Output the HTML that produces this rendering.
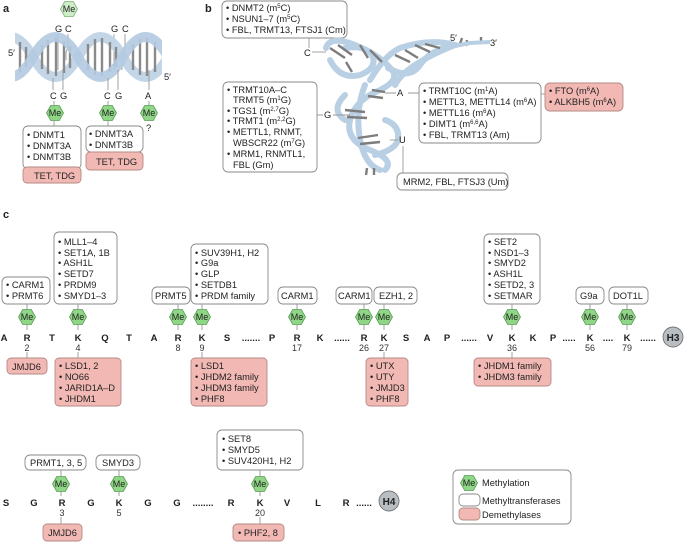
<!DOCTYPE html>
<html><head><meta charset="utf-8"><style>
html,body{margin:0;padding:0;background:#fff;}
svg{display:block;}
text{font-family:"Liberation Sans",sans-serif;font-size:9.3px;fill:#222;}
.b{font-weight:bold;font-size:11px;}
.s{font-weight:bold;font-size:9.5px;text-anchor:middle;}
.n{font-size:9px;text-anchor:middle;fill:#333;}
.m{text-anchor:middle;font-size:9px;}
.box{fill:#fff;stroke:#8a8a8a;stroke-width:0.9;}
.pk{fill:#f2b9b4;stroke:#b58a86;stroke-width:0.9;}
.ln{stroke:#999;stroke-width:0.9;fill:none;}
</style></head><body>
<svg width="685" height="542" viewBox="0 0 685 542" xmlns="http://www.w3.org/2000/svg">
<defs>
<polygon id="hx" points="-8.5,0 -4.3,-7.5 4.3,-7.5 8.5,0 4.3,7.5 -4.3,7.5" fill="#8fd686" stroke="#5a9e55" stroke-width="0.8"/>
<polygon id="hxl" points="-8.5,0 -4.3,-7.5 4.3,-7.5 8.5,0 4.3,7.5 -4.3,7.5" fill="#cdeec6" stroke="#7fb078" stroke-width="0.8"/>
<clipPath id="cl"><rect x="15" y="20" width="147" height="80"/></clipPath>
</defs>

<!-- PANEL A -->
<text class="b" x="3" y="12">a</text>
<use href="#hxl" x="69" y="9"/><text class="m" x="69" y="12">Me</text>
<text x="55" y="32">G</text><text x="65" y="32">C</text>
<path class="ln" d="M58,34 V70 M68,34 V48 L66,52 V60"/>
<text x="111" y="32">G</text><text x="122" y="32">C</text>
<path class="ln" d="M114,34 V70 M125,34 V50 L122,54 V70"/>
<g clip-path="url(#cl)">
<path d="M-12,57 Q10.5,17 33,57 Q55.5,97 78,57 Q100.5,17 123,57 Q145.5,97 168,57" stroke="#c3d6e8" stroke-width="10" fill="none"/>
<g stroke="#8a8a8a" stroke-width="2.4">
<line x1="20" y1="42" x2="20" y2="72"/><line x1="26" y1="47" x2="26" y2="67"/>
<line x1="42" y1="45" x2="42" y2="69"/><line x1="48" y1="40" x2="48" y2="74"/><line x1="56" y1="38" x2="56" y2="76"/><line x1="64" y1="41" x2="64" y2="73"/><line x1="70" y1="46" x2="70" y2="68"/>
<line x1="88" y1="44" x2="88" y2="70"/><line x1="95" y1="39" x2="95" y2="75"/><line x1="102" y1="38" x2="102" y2="76"/><line x1="110" y1="42" x2="110" y2="72"/><line x1="116" y1="47" x2="116" y2="67"/>
<line x1="133" y1="44" x2="133" y2="70"/><line x1="140" y1="39" x2="140" y2="75"/><line x1="147" y1="38" x2="147" y2="76"/><line x1="155" y1="42" x2="155" y2="72"/>
</g>
<path d="M-12,57 Q10.5,97 33,57 Q55.5,17 78,57 Q100.5,97 123,57 Q145.5,17 168,57" stroke="#b3cae0" stroke-width="10" fill="none" opacity="0.9"/>
</g>
<text x="8" y="56">5′</text><text x="164" y="80">5′</text>
<path class="ln" d="M53,78 V90 M63,70 V90 M108,78 V90 M118,70 V90 M149,70 V90"/>
<text x="50" y="99">C</text><text x="60" y="99">G</text>
<text x="104" y="99">C</text><text x="115" y="99">G</text>
<text x="145" y="99">A</text>
<path class="ln" d="M54,101 V106 M108,101 V106 M149,101 V106 M54,121 V126 M108,121 V126 M54,167 V170"/>
<use href="#hx" x="55" y="113"/><text class="m" x="55" y="116">Me</text>
<use href="#hx" x="108" y="113"/><text class="m" x="108" y="116">Me</text>
<use href="#hx" x="149" y="113"/><text class="m" x="149" y="116">Me</text>
<text x="146" y="131">?</text>
<rect class="box" x="23" y="126" width="58" height="43" rx="5"/>
<text x="27" y="138">• DNMT1</text><text x="27" y="149">• DNMT3A</text><text x="27" y="160">• DNMT3B</text>
<rect class="pk" x="23" y="167" width="58" height="16" rx="4"/>
<text x="34" y="179">TET, TDG</text>
<rect class="box" x="86" y="126" width="57" height="26" rx="5"/>
<text x="89" y="137">• DNMT3A</text><text x="89" y="148">• DNMT3B</text>
<rect class="pk" x="86" y="152" width="57" height="18" rx="4"/>
<text x="96" y="165">TET, TDG</text>

<!-- PANEL B -->
<text class="b" x="205" y="12">b</text>
<rect class="box" x="222" y="1" width="125" height="37" rx="5"/>
<text x="226" y="11">• DNMT2 (m<tspan font-size="6" dy="-3">5</tspan><tspan dy="3">C)</tspan></text>
<text x="226" y="22">• NSUN1–7 (m<tspan font-size="6" dy="-3">5</tspan><tspan dy="3">C)</tspan></text>
<text x="226" y="33">• FBL, TRMT13, FTSJ1 (Cm)</text>
<path class="ln" d="M309,38 V48"/>
<text x="304" y="56">C</text>
<path class="ln" d="M312,52 H326"/>
<g fill="none" stroke="#b9cfe4" stroke-width="6" stroke-linecap="round">
<path d="M326,48 Q330,35 355,45 Q380,55 392,70 Q400,80 380,90 Q355,100 350,120 Q345,140 370,150 Q395,160 385,170"/>
<path d="M330,60 Q340,80 360,75 Q378,68 372,55 Q365,45 345,48"/>
<path d="M365,85 Q355,110 360,140 Q365,165 380,170"/>
<path d="M370,80 Q385,55 400,48 Q430,38 455,45 Q430,55 415,65 Q400,75 395,85"/>
<path d="M388,68 Q410,80 420,65 Q430,50 455,45"/>
<path d="M375,155 Q395,150 398,140 Q400,125 385,120"/>
<path d="M345,95 Q330,110 345,120"/>
</g>
<g stroke="#7d7d7d" stroke-width="2.4">
<line x1="330" y1="48" x2="345" y2="58"/><line x1="338" y1="45" x2="352" y2="55"/><line x1="346" y1="62" x2="352" y2="72"/>
<line x1="360" y1="45" x2="368" y2="58"/><line x1="370" y1="50" x2="382" y2="62"/>
<line x1="395" y1="55" x2="410" y2="62"/><line x1="405" y1="50" x2="418" y2="58"/><line x1="415" y1="45" x2="430" y2="52"/><line x1="425" y1="44" x2="440" y2="48"/>
<line x1="372" y1="90" x2="385" y2="92"/><line x1="368" y1="96" x2="383" y2="98"/>
<line x1="345" y1="110" x2="365" y2="112"/><line x1="347" y1="117" x2="367" y2="118"/>
<line x1="358" y1="138" x2="378" y2="135"/><line x1="360" y1="144" x2="380" y2="142"/>
<line x1="366" y1="175" x2="367" y2="168"/><line x1="374" y1="175" x2="374" y2="168"/>
<line x1="460" y1="44" x2="462" y2="38"/><line x1="466" y1="46" x2="467" y2="40"/><line x1="481" y1="44" x2="481" y2="37"/>
</g>
<path d="M455,46 L470,43 L490,42" stroke="#b9cfe4" stroke-width="4" fill="none"/>
<text x="450" y="41">5′</text><text x="490" y="46">3′</text>
<rect class="box" x="223" y="82" width="94" height="90" rx="5"/>
<text x="227" y="93">• TRMT10A–C</text>
<text x="233" y="103">TRMT5 (m<tspan font-size="6" dy="-3">1</tspan><tspan dy="3">G)</tspan></text>
<text x="227" y="114">• TGS1 (m<tspan font-size="6" dy="-3">2,7</tspan><tspan dy="3">G)</tspan></text>
<text x="227" y="124">• TRMT1 (m<tspan font-size="6" dy="-3">2,2</tspan><tspan dy="3">G)</tspan></text>
<text x="227" y="135">• METTL1, RNMT,</text>
<text x="233" y="146">WBSCR22 (m<tspan font-size="6" dy="-3">7</tspan><tspan dy="3">G)</tspan></text>
<text x="227" y="157">• MRM1, RNMTL1,</text>
<text x="233" y="168">FBL (Gm)</text>
<path class="ln" d="M317,115 H323 M333,115 H350"/>
<text x="324" y="118">G</text>
<path class="ln" d="M385,93 H396 M408,93 H419"/>
<text x="397" y="96">A</text>
<rect class="box" x="419" y="83" width="122" height="60" rx="5"/>
<text x="423" y="94">• TRMT10C (m<tspan font-size="6" dy="-3">1</tspan><tspan dy="3">A)</tspan></text>
<text x="423" y="105">• METTL3, METTL14 (m<tspan font-size="6" dy="-3">6</tspan><tspan dy="3">A)</tspan></text>
<text x="423" y="116">• METTL16 (m<tspan font-size="6" dy="-3">6</tspan><tspan dy="3">A)</tspan></text>
<text x="423" y="127">• DIMT1 (m<tspan font-size="6" dy="-3">6,6</tspan><tspan dy="3">A)</tspan></text>
<text x="423" y="138">• FBL, TRMT13 (Am)</text>
<path class="ln" d="M541,94 H545"/>
<rect class="pk" x="545" y="83" width="78" height="28" rx="5"/>
<text x="549" y="94">• FTO (m<tspan font-size="6" dy="-3">6</tspan><tspan dy="3">A)</tspan></text>
<text x="549" y="105">• ALKBH5 (m<tspan font-size="6" dy="-3">6</tspan><tspan dy="3">A)</tspan></text>
<path class="ln" d="M390,140 H398"/>
<text x="399" y="143">U</text>
<path class="ln" d="M403,146 V173"/>
<rect class="box" x="397" y="173" width="111" height="17" rx="5"/>
<text x="403" y="185">MRM2, FBL, FTSJ3 (Um)</text>

<!-- PANEL C -->
<text class="b" x="3" y="218">c</text>
<rect class="box" x="2" y="277" width="48" height="27" rx="5"/>
<text x="6" y="288">• CARM1</text><text x="6" y="299">• PRMT6</text>
<rect class="box" x="54" y="232" width="63" height="72" rx="5"/>
<text x="58" y="245">• MLL1–4</text><text x="58" y="256">• SET1A, 1B</text><text x="58" y="266">• ASH1L</text><text x="58" y="277">• SETD7</text><text x="58" y="288">• PRDM9</text><text x="58" y="299">• SMYD1–3</text>
<rect class="box" x="152" y="287" width="38" height="17" rx="5"/>
<text x="155" y="299">PRMT5</text>
<rect class="box" x="191" y="244" width="77" height="60" rx="5"/>
<text x="195" y="256">• SUV39H1, H2</text><text x="195" y="266">• G9a</text><text x="195" y="277">• GLP</text><text x="195" y="288">• SETDB1</text><text x="195" y="299">• PRDM family</text>
<rect class="box" x="278" y="287" width="39" height="17" rx="5"/>
<text x="281" y="299">CARM1</text>
<rect class="box" x="336" y="287" width="36" height="17" rx="5"/>
<text x="338" y="299">CARM1</text>
<rect class="box" x="374" y="287" width="43" height="17" rx="5"/>
<text x="379" y="299">EZH1, 2</text>
<rect class="box" x="484" y="234" width="56" height="70" rx="5"/>
<text x="488" y="245">• SET2</text><text x="488" y="256">• NSD1–3</text><text x="488" y="266">• SMYD2</text><text x="488" y="277">• ASH1L</text><text x="488" y="288">• SETD2, 3</text><text x="488" y="299">• SETMAR</text>
<rect class="box" x="576" y="287" width="28" height="17" rx="5"/>
<text x="580" y="299">G9a</text>
<rect class="box" x="609" y="287" width="39" height="17" rx="5"/>
<text x="613" y="299">DOT1L</text>
<path class="ln" d="M27,304 V310 M27,325 V330 M78,304 V310 M78,325 V330 M178,304 V310 M178,325 V330 M202,304 V310 M202,325 V330 M297,304 V310 M297,325 V330 M364,304 V310 M364,325 V330 M384,304 V310 M384,325 V330 M512,304 V310 M512,325 V330 M590,304 V310 M590,325 V330 M627,304 V310 M627,325 V330
M27,352 V358 M78,352 V358 M202,352 V358 M384,352 V358 M512,352 V358"/>
<g>
<use href="#hx" x="27" y="317"/><text class="m" x="27" y="320">Me</text>
<use href="#hx" x="78" y="317"/><text class="m" x="78" y="320">Me</text>
<use href="#hx" x="178" y="317"/><text class="m" x="178" y="320">Me</text>
<use href="#hx" x="202" y="317"/><text class="m" x="202" y="320">Me</text>
<use href="#hx" x="297" y="317"/><text class="m" x="297" y="320">Me</text>
<use href="#hx" x="364" y="317"/><text class="m" x="364" y="320">Me</text>
<use href="#hx" x="384" y="317"/><text class="m" x="384" y="320">Me</text>
<use href="#hx" x="512" y="317"/><text class="m" x="512" y="320">Me</text>
<use href="#hx" x="590" y="317"/><text class="m" x="590" y="320">Me</text>
<use href="#hx" x="627" y="317"/><text class="m" x="627" y="320">Me</text>
</g>
<text class="s" x="4" y="341">A</text><text class="s" x="27" y="341">R</text><text class="s" x="52" y="341">T</text><text class="s" x="78" y="341">K</text><text class="s" x="105" y="341">Q</text><text class="s" x="129" y="341">T</text><text class="s" x="154" y="341">A</text><text class="s" x="178" y="341">R</text><text class="s" x="202" y="341">K</text><text class="s" x="227" y="341">S</text><text class="s" x="251" y="341">.......</text><text class="s" x="272" y="341">P</text><text class="s" x="297" y="341">R</text><text class="s" x="320" y="341">K</text><text class="s" x="342" y="341">......</text><text class="s" x="364" y="341">R</text><text class="s" x="384" y="341">K</text><text class="s" x="406" y="341">S</text><text class="s" x="427" y="341">A</text><text class="s" x="447" y="341">P</text><text class="s" x="469" y="341">......</text><text class="s" x="490" y="341">V</text><text class="s" x="512" y="341">K</text><text class="s" x="533" y="341">K</text><text class="s" x="553" y="341">P</text><text class="s" x="569" y="341">.....</text><text class="s" x="590" y="341">K</text><text class="s" x="608" y="341">....</text><text class="s" x="627" y="341">K</text><text class="s" x="648" y="341">......</text>
<text class="n" x="27" y="351">2</text><text class="n" x="78" y="351">4</text><text class="n" x="178" y="351">8</text><text class="n" x="202" y="351">9</text><text class="n" x="297" y="351">17</text><text class="n" x="364" y="351">26</text><text class="n" x="384" y="351">27</text><text class="n" x="512" y="351">36</text><text class="n" x="590" y="351">56</text><text class="n" x="627" y="351">79</text>
<circle cx="673" cy="337" r="10" fill="#b9bec3" stroke="#707478" stroke-width="0.9"/>
<text x="673" y="341" style="font-weight:bold;font-size:10px;text-anchor:middle">H3</text>
<rect class="pk" x="7" y="358" width="40" height="16" rx="4"/>
<text x="12" y="370">JMJD6</text>
<rect class="pk" x="55" y="358" width="66" height="48" rx="4"/>
<text x="59" y="369">• LSD1, 2</text><text x="59" y="380">• NO66</text><text x="59" y="391">• JARID1A–D</text><text x="59" y="402">• JHDM1</text>
<rect class="pk" x="191" y="358" width="76" height="48" rx="4"/>
<text x="195" y="369">• LSD1</text><text x="195" y="380">• JHDM2 family</text><text x="195" y="391">• JHDM3 family</text><text x="195" y="402">• PHF8</text>
<rect class="pk" x="366" y="358" width="42" height="48" rx="4"/>
<text x="370" y="369">• UTX</text><text x="370" y="380">• UTY</text><text x="370" y="391">• JMJD3</text><text x="370" y="402">• PHF8</text>
<rect class="pk" x="474" y="358" width="77" height="28" rx="4"/>
<text x="478" y="369">• JHDM1 family</text><text x="478" y="380">• JHDM3 family</text>

<!-- H4 -->
<rect class="box" x="25" y="455" width="61" height="15" rx="5"/>
<text x="30" y="466">PRMT1, 3, 5</text>
<rect class="box" x="96" y="455" width="44" height="15" rx="5"/>
<text x="102" y="466">SMYD3</text>
<rect class="box" x="217" y="430" width="86" height="40" rx="5"/>
<text x="222" y="442">• SET8</text><text x="222" y="453">• SMYD5</text><text x="222" y="464">• SUV420H1, H2</text>
<path class="ln" d="M61,470 V476 M61,491 V496 M119,470 V476 M119,491 V496 M260,470 V476 M260,491 V496 M61,517 V524 M260,517 V524"/>
<use href="#hx" x="61" y="484"/><text class="m" x="61" y="487">Me</text>
<use href="#hx" x="119" y="484"/><text class="m" x="119" y="487">Me</text>
<use href="#hx" x="260" y="484"/><text class="m" x="260" y="487">Me</text>
<text class="s" x="6" y="506">S</text><text class="s" x="34" y="506">G</text><text class="s" x="62" y="506">R</text><text class="s" x="91" y="506">G</text><text class="s" x="119" y="506">K</text><text class="s" x="148" y="506">G</text><text class="s" x="177" y="506">G</text><text class="s" x="203" y="506">........</text><text class="s" x="231" y="506">R</text><text class="s" x="260" y="506">K</text><text class="s" x="287" y="506">V</text><text class="s" x="318" y="506">L</text><text class="s" x="346" y="506">R</text><text class="s" x="364" y="506">......</text>
<text class="n" x="62" y="516">3</text><text class="n" x="119" y="516">5</text><text class="n" x="260" y="516">20</text>
<circle cx="389" cy="501" r="10" fill="#b9bec3" stroke="#707478" stroke-width="0.9"/>
<text x="389" y="505" style="font-weight:bold;font-size:10px;text-anchor:middle">H4</text>
<rect class="pk" x="43" y="524" width="39" height="17" rx="4"/>
<text x="48" y="536">JMJD6</text>
<rect class="pk" x="233" y="524" width="51" height="17" rx="4"/>
<text x="238" y="536">• PHF2, 8</text>

<rect class="box" x="453" y="470" width="118" height="54" rx="5"/>
<use href="#hx" x="469" y="483"/><text class="m" x="469" y="486">Me</text>
<text x="482" y="486">Methylation</text>
<rect class="box" x="459" y="494" width="21" height="12" rx="4"/>
<text x="482" y="504">Methyltransferases</text>
<rect class="pk" x="459" y="508" width="21" height="12" rx="4"/>
<text x="482" y="518">Demethylases</text>
</svg>
</body></html>
